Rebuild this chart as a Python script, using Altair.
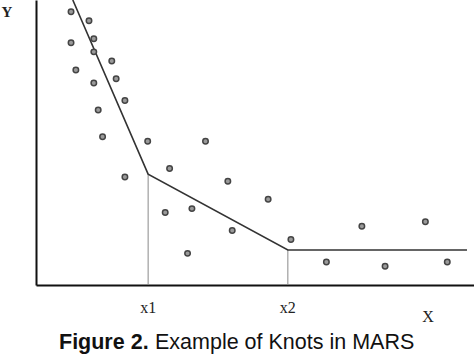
import altair as alt
import pandas as pd

# Observations (x, y) in 0-100 units
pts_x = [8.0, 12.1, 8.0, 13.2, 13.2, 17.3, 9.1, 18.3, 13.2, 20.3, 14.2, 15.2,
         25.5, 38.7, 30.5, 20.3, 43.8, 29.5, 35.6, 44.8, 34.6, 53.0, 58.2,
         74.4, 88.9, 66.3, 79.7, 93.9]
pts_y = [95.9, 92.7, 85.0, 86.4, 81.8, 78.6, 75.4, 72.4, 70.9, 64.7, 61.4, 52.0,
         50.4, 50.4, 40.9, 37.9, 36.4, 25.4, 26.8, 19.1, 11.1, 30.1, 16.0,
         20.6, 22.2, 8.1, 6.6, 8.1]

# Piecewise linear MARS fit
fit_x = [8.4, 25.6, 57.5, 98.4]
fit_y = [100.0, 38.9, 12.3, 12.3]

# Knots
knot_x = [25.6, 57.5]
knot_y = [38.9, 12.3]
knot_labels = ["x1", "x2"]

axis_letters = ["Y", "X"]

pts = pd.DataFrame({"x": pts_x, "y": pts_y})
fit = pd.DataFrame({"x": fit_x, "y": fit_y, "o": list(range(len(fit_x)))})
knots = pd.DataFrame({"x": knot_x, "y": knot_y, "y0": [0, 0], "label": knot_labels})

xs = alt.Scale(domain=[0, 100], nice=False, zero=False)
ys = alt.Scale(domain=[0, 100], nice=False, zero=False)

axis_style = dict(labels=False, ticks=False, grid=False, title=None,
                  domainColor="#111", domainWidth=2)

base_pts = alt.Chart(pts).mark_point(
    shape="circle", size=30, filled=True, fill="#9a9a9a",
    stroke="#444", strokeWidth=1.5, opacity=1
).encode(
    x=alt.X("x:Q", scale=xs, axis=alt.Axis(**axis_style)),
    y=alt.Y("y:Q", scale=ys, axis=alt.Axis(**axis_style)),
)

line = alt.Chart(fit).mark_line(color="#333", strokeWidth=1.6).encode(
    x=alt.X("x:Q", scale=xs), y=alt.Y("y:Q", scale=ys), order="o:Q"
)

vrules = alt.Chart(knots).mark_rule(color="#8a8a8a", strokeWidth=1).encode(
    x=alt.X("x:Q", scale=xs), y=alt.Y("y0:Q", scale=ys), y2="y:Q"
)

knot_text = alt.Chart(knots).mark_text(
    font="Liberation Serif", fontSize=16, color="#222", baseline="alphabetic"
).encode(
    x=alt.X("x:Q", scale=xs), y=alt.value(313), text="label:N"
)

y_letter = alt.Chart(pd.DataFrame({"t": [axis_letters[0]]})).mark_text(
    font="Liberation Serif", fontSize=15, fontWeight="bold", color="#222",
    baseline="alphabetic", align="center"
).encode(x=alt.value(7 - 36), y=alt.value(17), text="t:N")

x_letter = alt.Chart(pd.DataFrame({"t": [axis_letters[1]]})).mark_text(
    font="Liberation Serif", fontSize=16, color="#222",
    baseline="alphabetic", align="center"
).encode(x=alt.value(428 - 36), y=alt.value(322), text="t:N")

cap_font = "Liberation Sans"

cap_bold = alt.Chart(pd.DataFrame({"t": ["Figure 2."]})).mark_text(
    font=cap_font, fontSize=21.5, fontWeight="bold", color="#111",
    align="left", baseline="alphabetic"
).encode(x=alt.value(59 - 36), y=alt.value(349), text="t:N")

cap_reg = alt.Chart(pd.DataFrame({"t": ["Example of Knots in MARS"]})).mark_text(
    font=cap_font, fontSize=21.5, color="#111",
    align="left", baseline="alphabetic"
).encode(x=alt.value(155 - 36), y=alt.value(349), text="t:N")

chart = alt.layer(
    vrules, line, base_pts, knot_text, y_letter, x_letter, cap_bold, cap_reg
).properties(
    width=438, height=285,
    autosize=alt.AutoSizeParams(type="none"),
    padding={"left": 36, "top": 0, "right": 0, "bottom": 70},
    background="white",
).configure_view(stroke=None)

chart.save("out.html", embed_options={"renderer": "svg", "actions": False})
